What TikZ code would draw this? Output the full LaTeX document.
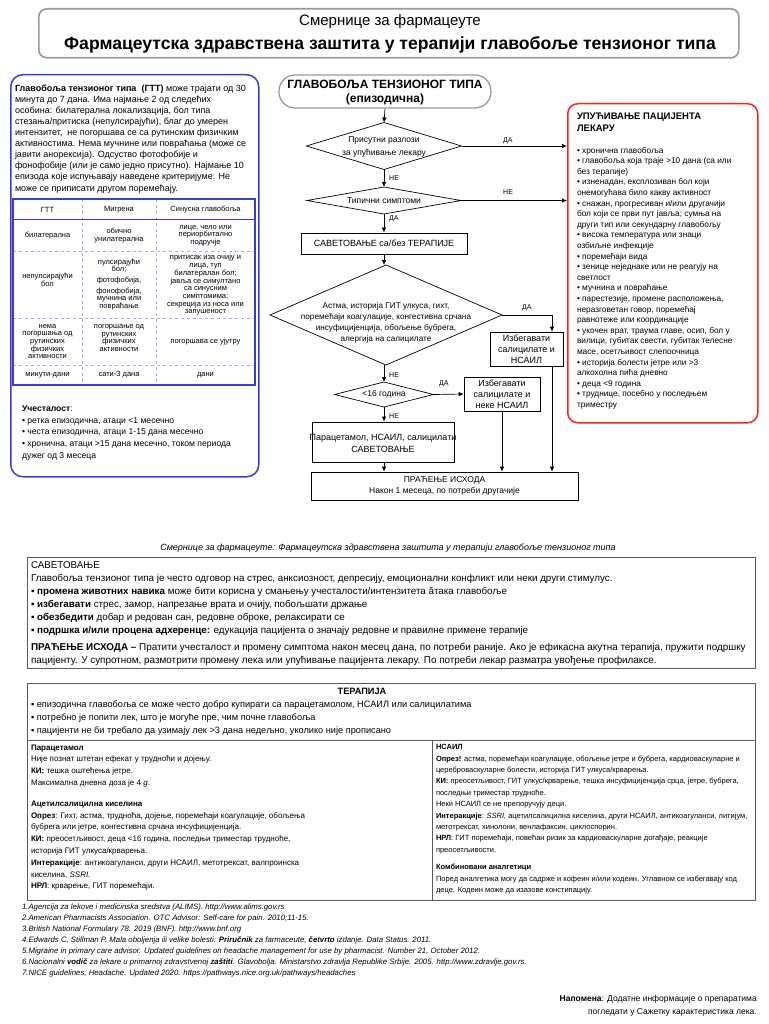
\documentclass[tikz,border=0pt]{standalone}
\usepackage{fontspec}
\setmainfont{Liberation Sans}
\usetikzlibrary{shapes.geometric,arrows.meta,calc}
\newcommand{\fsz}[2]{\fontsize{#1}{#2}\selectfont}
\definecolor{bluebox}{HTML}{3B3BD6}
\definecolor{bluedash}{HTML}{A8A8F0}
\definecolor{redbox}{HTML}{FF2020}
\definecolor{graybox}{HTML}{9A9A9A}
\definecolor{lowgray}{HTML}{5A5A5A}
\tikzset{
  txt/.style={inner sep=0pt, outer sep=0pt, align=left, anchor=north west},
  ctxt/.style={inner sep=0pt, outer sep=0pt, align=center},
  flowbox/.style={draw=black, line width=0.7pt, fill=white, inner sep=0pt},
  decision/.style={diamond, draw=black, line width=0.7pt, inner sep=0pt, outer sep=0pt},
  arr/.style={-{Latex[length=5pt,width=4.5pt]}, line width=0.7pt},
  conn/.style={line width=0.7pt},
  yn/.style={inner sep=0pt, anchor=west, font=\fsz{7}{8}},
  lowbox/.style={draw=lowgray, line width=0.9pt, anchor=north west, inner sep=0pt},
  tblout/.style={draw=bluebox, line width=1.1pt},
  tbldash/.style={draw=bluedash, line width=0.6pt, dashed},
}
\begin{document}
\begin{tikzpicture}[x=1pt,y=-1pt]
\useasboundingbox[fill=white] (0,0) rectangle (768,1024);

% ---------- title ----------
\node[draw=graybox, line width=1.6pt, rounded corners=8pt, minimum width=700pt, minimum height=49pt, anchor=north west, inner sep=0pt] (tbox) at (38,8) {};
\node[ctxt, font=\fsz{15}{18}] (t1) at (390,21.5) {Смернице за фармацеуте};
\node[ctxt, font=\fsz{17.6}{20}\bfseries] (t2) at (390,45) {Фармацеутска здравствена заштита у терапији главобоље тензионог типа};

% ---------- left blue box ----------
\node[draw=bluebox, line width=1.5pt, rounded corners=12pt, minimum width=248pt, minimum height=402pt, anchor=north west, inner sep=0pt] (lbox) at (10,74) {};
\node[txt, font=\fsz{9}{11.1}] (intro) at (15,84.5) {\textbf{Главобоља тензионог типа\ \ (ГТТ)} може трајати од 30\\
минута до 7 дана. Има најмање 2 од следећих\\
особина: билатерална локализација, бол типа\\
стезања/притиска (непулсирајући), благ до умерен\\
интензитет,\ \ не погоршава се са рутинским физичким\\
активностима. Нема мучнине или повраћања (може се\\
јавити анорексија). Одсуство фотофобије и\\
фонофобије (или је само једно присутно). Најмање 10\\
епизода које испуњавају наведене критеријуме. Не\\
може се приписати другом поремећају.};

% table
\draw[tbldash] (13,251) -- (255,251);
\draw[tbldash] (13,318) -- (255,318);
\draw[tbldash] (13,365) -- (255,365);
\draw[tbldash] (82,199) -- (82,385);
\draw[tbldash] (156,199) -- (156,385);
\draw[draw=bluebox, line width=1pt] (13,220) -- (255,220);
\draw[tblout] (13,199) rectangle (255,385);
\begin{scope}[every node/.style={ctxt, font=\fsz{7.5}{7.7}}]
\node (h1) at (47.5,209.5) {ГТТ};
\node (h2) at (119,209.5) {Мигрена};
\node (h3) at (205.5,209.5) {Синусна главобоља};
\node (c11) at (47.5,235.5) {билатерална};
\node (c12) at (119,235.5) {обично\\унилатерална};
\node (c13) at (205.5,235.5) {лице, чело или\\периорбитално\\подручје};
\node (c21) at (47.5,280) {непулсирајући\\бол};
\node (c22) at (119,284.5) {пулсирајући\\бол;\\[3pt]фотофобија,\\[3pt]фонофобија,\\мучнина или\\повраћање};
\node (c23) at (205.5,285) {притисак иза очију и\\лица, туп\\билатералан бол;\\јавља се симултано\\са синусним\\симптомима;\\секреција из носа или\\запушеност};
\node (c31) at (47.5,341.5) {нема\\погоршања од\\рутинских\\физичких\\активности};
\node (c32) at (119,338) {погоршање од\\рутинских\\физичких\\активности};
\node (c33) at (205.5,341.5) {погоршава се ујутру};
\node (c41) at (47.5,375) {минути-дани};
\node (c42) at (119,375) {сати-3 дана};
\node (c43) at (205.5,375) {дани};
\end{scope}

\node[txt, font=\fsz{8.6}{11.7}] (freq) at (22,405.5) {\textbf{Учесталост}:\\
• ретка епизодична, атаци <1 месечно\\
• честа епизодична, атаци 1-15 дана месечно\\
• хронична, атаци >15 дана месечно, током периода\\
дужег од 3 месеца};

% ---------- flowchart ----------
\node[draw=graybox, line width=1.3pt, rounded corners=16pt, minimum width=212pt, minimum height=33pt, inner sep=0pt] (term) at (385,91.5) {};
\node[ctxt, font=\fsz{12}{14.5}\bfseries] (termt) at (385,92.5) {ГЛАВОБОЉА ТЕНЗИОНОГ ТИПА\\(епизодична)};

\node[decision, minimum width=155pt, minimum height=47pt] (d1) at (384,146) {};
\node[ctxt, font=\fsz{8.5}{12.5}] (d1t) at (384,147) {Присутни разлози\\за упућивање лекару};

\node[decision, minimum width=154pt, minimum height=27pt] (d2) at (384,200.5) {};
\node[ctxt, font=\fsz{8.5}{10}] (d2t) at (384,200.5) {Типични симптоми};

\node[flowbox, minimum width=166pt, minimum height=21pt] (sav) at (384,243.5) {};
\node[ctxt, font=\fsz{9}{10}] (savt) at (384,243.5) {САВЕТОВАЊЕ са/без ТЕРАПИЈЕ};

\node[decision, minimum width=232pt, minimum height=100pt] (d3) at (386,315) {};
\node[ctxt, font=\fsz{8.2}{11}] (d3t) at (386,323) {Астма, историја ГИТ улкуса, гихт,\\поремећаји коагулације, конгестивна срчана\\инсуфицијенција, обољење бубрега,\\алергија на салицилате};

\node[flowbox, minimum width=73pt, minimum height=34pt] (b1) at (526.5,349) {};
\node[ctxt, font=\fsz{9}{10.8}] (b1t) at (526.5,349) {Избегавати\\салицилате и\\НСАИЛ};

\node[decision, minimum width=99pt, minimum height=25pt] (d4) at (384,394.5) {};
\node[ctxt, font=\fsz{8.5}{10}] (d4t) at (384,394.5) {<16 година};

\node[flowbox, minimum width=76pt, minimum height=34pt] (b2) at (502,394) {};
\node[ctxt, font=\fsz{9}{10.8}] (b2t) at (502,394) {Избегавати\\салицилате и\\неке НСАИЛ};

\node[flowbox, minimum width=142pt, minimum height=40pt] (b3) at (383,442) {};
\node[ctxt, font=\fsz{9}{12}] (b3t) at (383,443) {Парацетамол, НСАИЛ, салицилати\\САВЕТОВАЊЕ};

\node[flowbox, minimum width=267pt, minimum height=28pt] (fin) at (444.5,486) {};
\node[ctxt, font=\fsz{8.5}{11.5}] (fint) at (444.5,486) {ПРАЋЕЊЕ ИСХОДА\\Након 1 месеца, по потреби другачије};

% red referral box
\node[draw=redbox, line width=1.5pt, rounded corners=10pt, minimum width=190pt, minimum height=319pt, anchor=north west, inner sep=0pt] (refbox) at (567,103) {};
\node[txt, font=\fsz{9.5}{12}\bfseries] (reft) at (577,112.5) {УПУЋИВАЊЕ ПАЦИЈЕНТА\\ЛЕКАРУ};
\node[txt, font=\fsz{8.3}{10.6}] (refl) at (577,147) {• хронична главобоља\\
• главобоља која траје >10 дана (са или\\
без терапије)\\
• изненадан, експлозиван бол који\\
онемогућава било какву активност\\
• снажан, прогресиван и/или другачији\\
бол који се први пут јавља; сумња на\\
други тип или секундарну главобољу\\
• висока температура или знаци\\
озбиљне инфекције\\
• поремећаји вида\\
• зенице неједнаке или не реагују на\\
светлост\\
• мучнина и повраћање\\
• парестезије, промене расположења,\\
неразговетан говор, поремећај\\
равнотеже или координације\\
• укочен врат, траума главе, осип, бол у\\
вилици, губитак свести, губитак телесне\\
масе, осетљивост слепоочница\\
• историја болести јетре или >3\\
алкохолна пића дневно\\
• деца <9 година\\
• труднице, посебно у последњем\\
триместру};

% connectors
\coordinate (c1) at (552,315);
\draw[arr] (term.south) -- (d1.north);
\draw[arr] (d1.east) -- (d1.east -| refbox.west);
\draw[arr] (d1.south) -- (d2.north);
\draw[arr] (d2.east) -- (d2.east -| refbox.west);
\draw[arr] (d2.south) -- (sav.north);
\draw[arr] (sav.south) -- (sav.south |- d3.north);
\draw[arr] (d3.east) -- (c1) -- (c1 |- b1.north);
\draw[arr] (d4.north |- d3.south) -- (d4.north);
\draw[arr] (d4.east) -- (b2.west);
\draw[arr] (d4.south) -- (d4.south |- b3.north);
\draw[arr] (d4.south |- b3.south) -- (d4.south |- fin.north);
\draw[arr] (b2.south) -- (b2.south |- fin.north);
\draw[arr] (c1 |- b1.south) -- (c1 |- fin.north);

\node[yn] (y1) at (503,141) {ДА};
\node[yn] (n1) at (389,178) {НЕ};
\node[yn] (n2) at (503,192) {НЕ};
\node[yn] (y2) at (389,219) {ДА};
\node[yn] (y3) at (522,308) {ДА};
\node[yn] (n3) at (389,375) {НЕ};
\node[yn] (y4) at (439,384) {ДА};
\node[yn] (n4) at (389,416) {НЕ};

% ---------- caption ----------
\node[ctxt, font=\fsz{9}{10}\itshape] (cap) at (388,548) {Смернице за фармацеуте: Фармацеутска здравствена заштита у терапији главобоље тензионог типа};

% ---------- counselling box ----------
\node[lowbox, minimum width=728pt, minimum height=111pt] (savbox) at (27,557) {};
\node[txt, font=\fsz{9.8}{13}] (savtxt) at (31,561.5) {САВЕТОВАЊЕ\\
Главобоља тензионог типа је често одговор на стрес, анксиозност, депресију, емоционални конфликт или неки други стимулус.\\
▪ \textbf{промена животних навика} може бити корисна у смањењу учесталости/интензитета ăтака главобоље\\
▪ \textbf{избегавати} стрес, замор, напрезање врата и очију, побољшати држање\\
▪ \textbf{обезбедити} добар и редован сан, редовне оброке, релаксирати се\\
▪ \textbf{подршка и/или процена адхеренце:} едукација пацијента о значају редовне и правилне примене терапије};
\node[txt, font=\fsz{9.9}{13}] (pratxt) at (31,643.5) {\textbf{ПРАЋЕЊЕ ИСХОДА –} Пратити учесталост и промену симптома након месец дана, по потреби раније. Ако је ефикасна акутна терапија, пружити подршку\\
пацијенту. У супротном, размотрити промену лека или упућивање пацијента лекару. По потреби лекар разматра увођење профилаксе.};

% ---------- therapy box ----------
\node[lowbox, minimum width=728pt, minimum height=217pt] (terbox) at (27,683) {};
\draw[draw=lowgray, line width=0.7pt] (terbox.west |- 0,740) -- (terbox.east |- 0,740);
\draw[draw=lowgray, line width=0.7pt] (432,740) -- (432,900);
\node[ctxt, font=\fsz{9.2}{11}\bfseries] (tert) at (362,691) {ТЕРАПИЈА};
\node[txt, font=\fsz{9.2}{13}] (terb) at (31,701) {▪ епизодична главобоља се може често добро купирати са парацетамолом, НСАИЛ или салицилатима\\
▪ потребно је попити лек, што је могуће пре, чим почне главобоља\\
▪ пацијенти не би требало да узимају лек >3 дана недељно, уколико није прописано};
\node[txt, font=\fsz{8}{11.8}] (lcol) at (31,744.5) {\textbf{Парацетамол}\\
Није познат штетан ефекат у трудноћи и дојењу.\\
\textbf{КИ:} тешка оштећења јетре.\\
Максимална дневна доза је 4 \textit{g}.\\[9pt]
\textbf{Ацетилсалицилна киселина}\\
\textbf{Опрез}: Гихт, астма, трудноћа, дојење, поремећаји коагулације, обољења\\
бубрега или јетре, конгестивна срчана инсуфицијенција.\\
\textbf{КИ:} преосетљивост, деца <16 година, последњи триместар трудноће,\\
историја ГИТ улкуса/крварења.\\
\textbf{Интеракције}: антикоагуланси, други НСАИЛ, метотрексат, валпроинска\\
киселина, \textit{SSRI.}\\
\textbf{НРЛ}: крварење, ГИТ поремећаји.};
\node[txt, font=\fsz{7.5}{11.4}] (rcol) at (436,744.5) {\textbf{НСАИЛ}\\
\textbf{Опрез!} астма, поремећаји коагулације, обољење јетре и бубрега, кардиоваскуларне и\\
цереброваскуларне болести, историја ГИТ улкуса/крварења.\\
\textbf{КИ:} преосетљивост, ГИТ улкус/крварење, тешка инсуфицијенција срца, јетре, бубрега,\\
последњи триместар трудноће.\\
Неки НСАИЛ се не препоручују деци.\\
\textbf{Интеракције}: \textit{SSRI,} ацетилсалицилна киселина, други НСАИЛ, антикоагуланси, литијум,\\
метотрексат, хинолони, венлафаксин, циклоспорин.\\
\textbf{НРЛ}: ГИТ поремећаји, повећан ризик за кардиоваскуларне догађаје, реакције\\
преосетљивости.\\[6pt]
\textbf{Комбиновани аналгетици}\\
Поред аналгетика могу да садрже и кофеин и/или кодеин. Углавном се избегавају код\\
деце. Кодеин може да изазове констипацију.};

% ---------- references ----------
\node[txt, font=\fsz{7.8}{11}\itshape] (refs) at (22,904) {1.Agencija za lekove i medicinska sredstva (ALIMS). http://www.alims.gov.rs\\
2.American Pharmacists Association. OTC Advisor: Self-care for pain. 2010;11-15.\\
3.British National Formulary 78. 2019 (BNF). http://www.bnf.org\\
4.Edwards C, Stillman P. Mala oboljenja ili velike bolesti: \textbf{Priručnik} za farmaceute, \textbf{četvrto} izdanje. Data Status. 2011.\\
5.Migraine in primary care advisor. Updated guidelines on headache management for use by pharmacist. Number 21, October 2012.\\
6.Nacionalni \textbf{vodič} za lekare u primarnoj zdravstvenoj \textbf{zaštiti}. Glavobolja. Ministarstvo zdravlja Republike Srbije. 2005. http://www.zdravlje.gov.rs.\\
7.NICE guidelines, Headache. Updated 2020. https://pathways.nice.org.uk/pathways/headaches};

\node[inner sep=0pt, anchor=north east, align=right, font=\fsz{8.5}{13}] (note) at (757,995.5) {\textbf{Напомена}: Додатне информације о препаратима\\погледати у Сажетку карактеристика лека.};
\end{tikzpicture}
\end{document}
